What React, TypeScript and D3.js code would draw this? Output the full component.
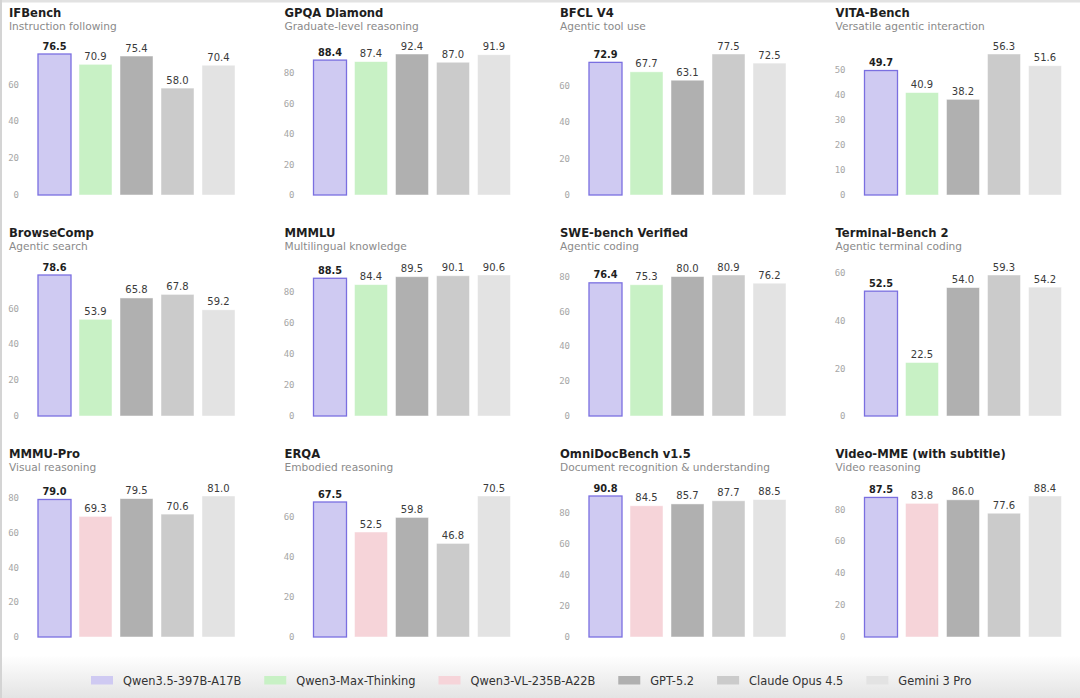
import React from "react";
import * as d3 from "d3";

const models = ["Qwen3.5-397B-A17B", "Qwen3-Max-Thinking", "Qwen3-VL-235B-A22B", "GPT-5.2", "Claude Opus 4.5", "Gemini 3 Pro"];
const modelColors = ["#cfcaf2", "#c8f1c5", "#f6d4d9", "#b0b0b0", "#cbcbcb", "#e3e3e3"];
const leadStroke = "#7a6fe0";

const titles = ["IFBench", "GPQA Diamond", "BFCL V4", "VITA-Bench", "BrowseComp", "MMMLU", "SWE-bench Verified", "Terminal-Bench 2", "MMMU-Pro", "ERQA", "OmniDocBench v1.5", "Video-MME (with subtitle)"];
const subtitles = ["Instruction following", "Graduate-level reasoning", "Agentic tool use", "Versatile agentic interaction", "Agentic search", "Multilingual knowledge", "Agentic coding", "Agentic terminal coding", "Visual reasoning", "Embodied reasoning", "Document recognition & understanding", "Video reasoning"];
// index into models for each bar of each panel
const panelModels = [
  [0, 1, 3, 4, 5], [0, 1, 3, 4, 5], [0, 1, 3, 4, 5], [0, 1, 3, 4, 5],
  [0, 1, 3, 4, 5], [0, 1, 3, 4, 5], [0, 1, 3, 4, 5], [0, 1, 3, 4, 5],
  [0, 2, 3, 4, 5], [0, 2, 3, 4, 5], [0, 2, 3, 4, 5], [0, 2, 3, 4, 5],
];
const scores = [
  [76.5, 70.9, 75.4, 58.0, 70.4],
  [88.4, 87.4, 92.4, 87.0, 91.9],
  [72.9, 67.7, 63.1, 77.5, 72.5],
  [49.7, 40.9, 38.2, 56.3, 51.6],
  [78.6, 53.9, 65.8, 67.8, 59.2],
  [88.5, 84.4, 89.5, 90.1, 90.6],
  [76.4, 75.3, 80.0, 80.9, 76.2],
  [52.5, 22.5, 54.0, 59.3, 54.2],
  [79.0, 69.3, 79.5, 70.6, 81.0],
  [67.5, 52.5, 59.8, 46.8, 70.5],
  [90.8, 84.5, 85.7, 87.7, 88.5],
  [87.5, 83.8, 86.0, 77.6, 88.4],
];
const yTicks = [
  [0, 20, 40, 60], [0, 20, 40, 60, 80], [0, 20, 40, 60], [0, 10, 20, 30, 40, 50],
  [0, 20, 40, 60], [0, 20, 40, 60, 80], [0, 20, 40, 60, 80], [0, 20, 40, 60],
  [0, 20, 40, 60, 80], [0, 20, 40, 60], [0, 20, 40, 60, 80], [0, 20, 40, 60, 80],
];

const W = 1080;
const H = 698;
const FONT = "'DejaVu Sans', sans-serif";
const MONO = "'DejaVu Sans Mono', monospace";

function measure(text: string, font: string): number {
  if (typeof document === "undefined") return text.length * 7;
  const c = document.createElement("canvas");
  const ctx = c.getContext("2d");
  if (!ctx) return text.length * 7;
  ctx.font = font;
  return ctx.measureText(text).width;
}

function Panel({ i }: { i: number }) {
  const col = i % 4;
  const row = Math.floor(i / 4);
  const ox = 9 + col * 275.5;
  const zeroY = 195 + row * 221;
  const vals = scores[i];
  const ids = panelModels[i];
  const x = d3
    .scaleBand<number>()
    .domain(d3.range(vals.length))
    .range([ox + 29, ox + 226])
    .paddingInner(0.195)
    .paddingOuter(0);
  const maxV = d3.max(vals) as number;
  const y = d3.scaleLinear().domain([0, maxV]).range([zeroY, zeroY - 141]);
  const titleY = 16.8 + row * 220.6;
  return (
    <g>
      <text x={ox} y={titleY} fontFamily={FONT} fontWeight="bold" fontSize={11.6} fill="#1e1e1e">
        {titles[i]}
      </text>
      <text x={ox} y={titleY + 12.8} fontFamily={FONT} fontSize={10.6} fill="#8a8a8a">
        {subtitles[i]}
      </text>
      {yTicks[i].map((t) => (
        <text key={t} x={ox + 10} y={y(t)} dy="0.35em" textAnchor="end" fontFamily={MONO} fontSize={9} fill="#a6a6a6">
          {t}
        </text>
      ))}
      {vals.map((v, j) => {
        const lead = j === 0;
        const bx = x(j) as number;
        const bw = x.bandwidth();
        return (
          <g key={j}>
            <rect
              x={bx}
              y={y(v)}
              width={bw}
              height={zeroY - y(v)}
              fill={modelColors[ids[j]]}
              stroke={lead ? leadStroke : "#ffffff"}
              strokeWidth={lead ? 1.3 : 0.8}
              strokeOpacity={lead ? 1 : 0.6}
            />
            <text
              x={bx + bw / 2}
              y={y(v) - 4.5}
              textAnchor="middle"
              fontFamily={FONT}
              fontSize={lead ? 9.8 : 10}
              fontWeight={lead ? "bold" : "normal"}
              fill={lead ? "#1e1e1e" : "#3a3a3a"}
            >
              {v.toFixed(1)}
            </text>
          </g>
        );
      })}
    </g>
  );
}

function Legend() {
  const font = `11.4px 'DejaVu Sans'`;
  let cx = 91;
  const items = models.map((m, k) => {
    const start = cx;
    const tw = measure(m, font);
    cx = start + 32 + tw + 23;
    return { m, k, start };
  });
  return (
    <g>
      {items.map(({ m, k, start }) => (
        <g key={m}>
          <rect x={start} y={676} width={22} height={8.5} fill={modelColors[k]} />
          <text x={start + 32} y={684.5} fontFamily={FONT} fontSize={11.4} fill="#333">
            {m}
          </text>
        </g>
      ))}
    </g>
  );
}

export default function App() {
  return (
    <svg
      width={W}
      height={H}
      viewBox={`0 0 ${W} ${H}`}
      style={{ position: "fixed", left: 0, top: 0, background: "#ffffff" }}
    >
      <defs>
        <linearGradient id="bottomFade" x1="0" y1="0" x2="0" y2="1">
          <stop offset="0" stopColor="#e4e4e4" stopOpacity={0} />
          <stop offset="1" stopColor="#e4e4e4" stopOpacity={1} />
        </linearGradient>
      </defs>
      <rect x={0} y={0} width={W} height={H} fill="#ffffff" />
      <rect x={0} y={655} width={W} height={H - 655} fill="url(#bottomFade)" />
      <rect x={0} y={0} width={W} height={2.5} fill="#e2e2e2" />
      <rect x={0} y={0} width={2} height={H} fill="#d4d4d4" />
      {titles.map((_, i) => (
        <Panel key={i} i={i} />
      ))}
      <Legend />
    </svg>
  );
}
